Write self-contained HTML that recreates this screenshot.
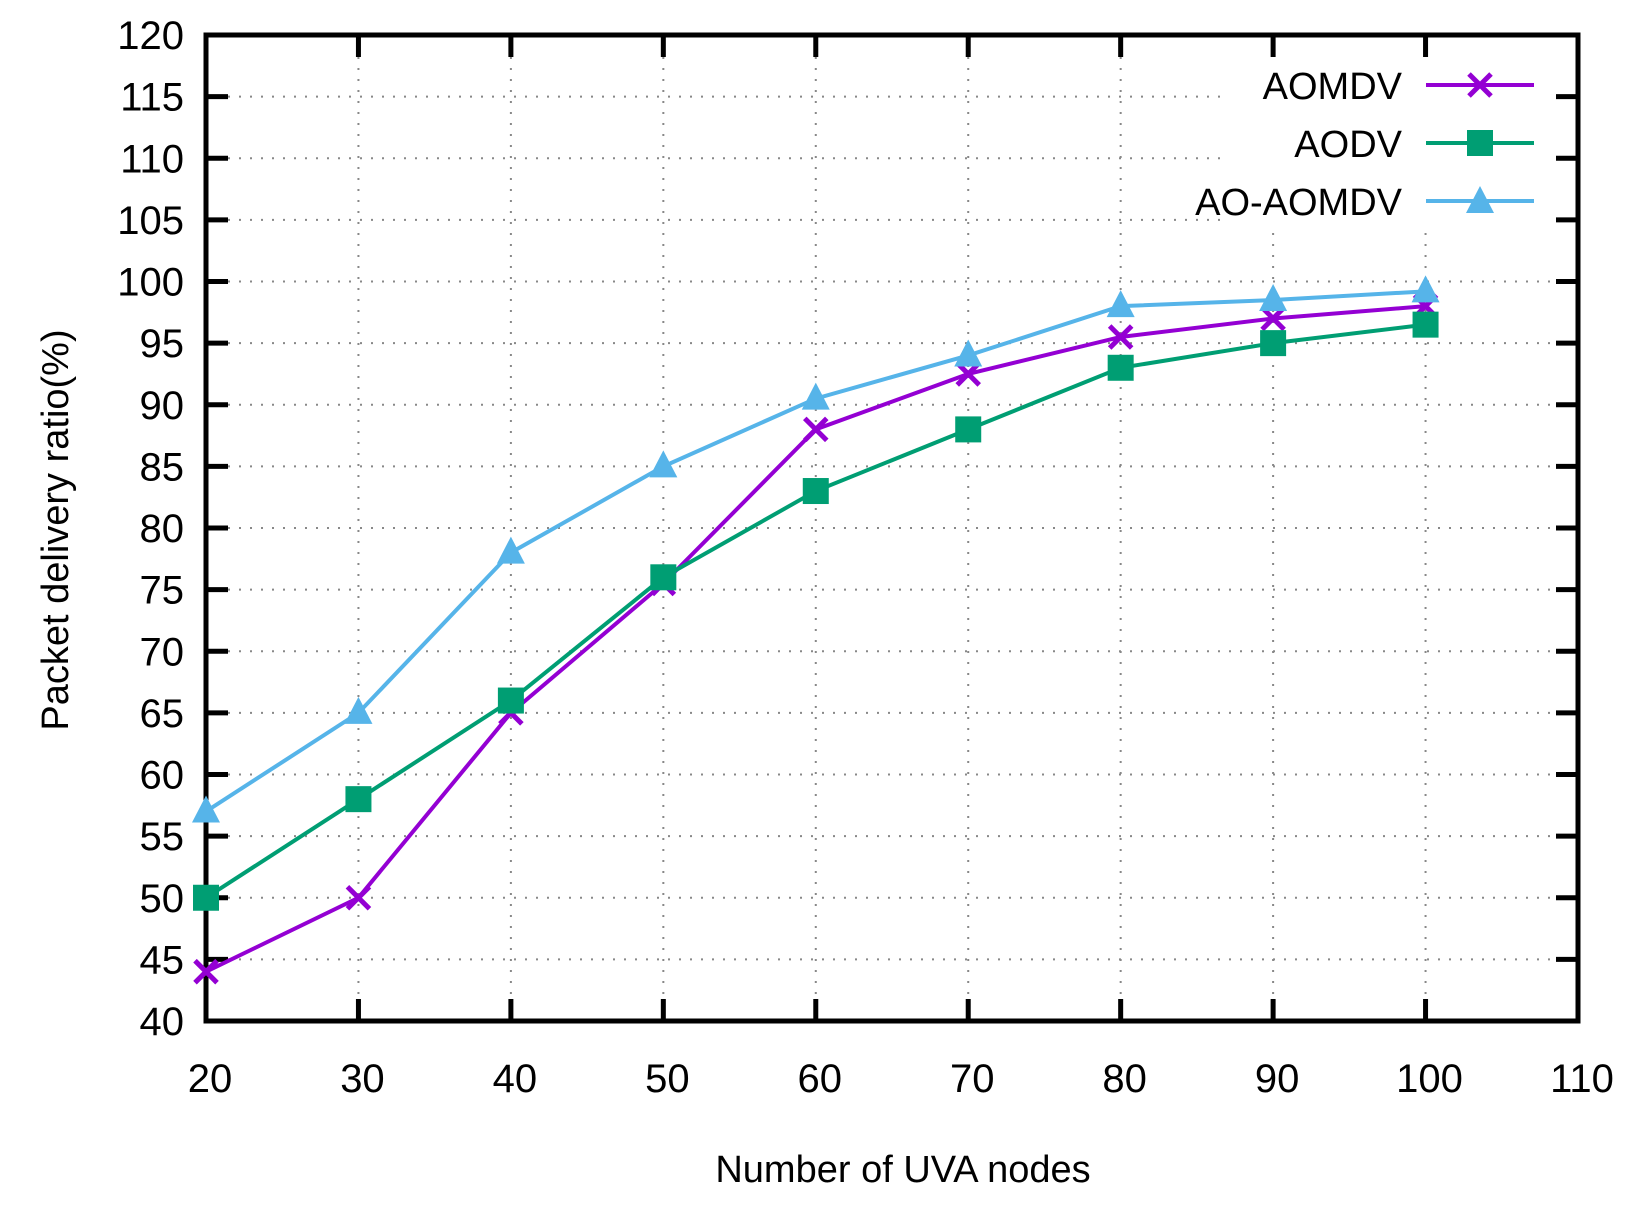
<!DOCTYPE html>
<html><head><meta charset="utf-8"><style>html,body{margin:0;padding:0;background:#fff}svg{display:block}text{font-family:"Liberation Sans",sans-serif;fill:#000}</style></head>
<body>
<svg width="1638" height="1214" viewBox="0 0 1638 1214" xmlns="http://www.w3.org/2000/svg">
<g id="grid" stroke="#888" stroke-width="2" stroke-dasharray="2,9"></g>
<rect x="1222" y="50" width="352" height="175" fill="#fff"/>
<g id="ticks" stroke="#000" stroke-width="5"></g>
<rect x="206" y="35" width="1372" height="986" fill="none" stroke="#000" stroke-width="5"/>
<g id="labels" font-size="40"></g>
<g id="series"></g>
<g font-size="38" text-anchor="end">
<text x="1402" y="99">AOMDV</text>
<text x="1402" y="157">AODV</text>
<text x="1402" y="215">AO-AOMDV</text>
</g>
<g stroke-width="4">
<line x1="1426" y1="85" x2="1534" y2="85" stroke="#9400d3"/>
<path d="M1469,74 L1491,96 M1491,74 L1469,96" stroke="#9400d3" stroke-width="5"/>
<line x1="1426" y1="143" x2="1534" y2="143" stroke="#009e73"/>
<rect x="1467" y="130" width="26" height="26" fill="#009e73" stroke="none"/>
<line x1="1426" y1="201" x2="1534" y2="201" stroke="#56b4e9"/>
<path d="M1480,186 L1494,213 L1466,213 Z" fill="#56b4e9" stroke="none"/>
</g>
<text x="903" y="1182" font-size="38" text-anchor="middle">Number of UVA nodes</text>
<text transform="translate(68,530) rotate(-90)" font-size="38" text-anchor="middle">Packet delivery ratio(%)</text>
</svg>
<script>
const ns="http://www.w3.org/2000/svg";
const X=v=>206+(v-20)*1372/90, Y=v=>1021-(v-40)*986/80;
function el(p,t,a,txt){const e=document.createElementNS(ns,t);for(const k in a)e.setAttribute(k,a[k]);if(txt!==undefined)e.textContent=txt;document.getElementById(p).appendChild(e);return e;}
for(let v=45;v<120;v+=5){const y=Y(v);el('grid','line',{x1:206,x2:1578,y1:y,y2:y});}
for(let v=30;v<110;v+=10){const x=X(v);el('grid','line',{x1:x,x2:x,y1:35,y2:1021});}
for(let v=40;v<=120;v+=5){const y=Y(v);el('ticks','line',{x1:206,x2:228,y1:y,y2:y});el('ticks','line',{x1:1556,x2:1578,y1:y,y2:y});el('labels','text',{x:184,y:y+14,'text-anchor':'end'},v);}
for(let v=20;v<=110;v+=10){const x=X(v);el('ticks','line',{x1:x,x2:x,y1:1021,y2:999});el('ticks','line',{x1:x,x2:x,y1:35,y2:57});el('labels','text',{x:x+4,y:1092,'text-anchor':'middle'},v);}
const xs=[20,30,40,50,60,70,80,90,100];
const S=[["#9400d3",[44,50,65,75.5,88,92.5,95.5,97,98],"x"],["#009e73",[50,58,66,76,83,88,93,95,96.5],"s"],["#56b4e9",[57,65,78,85,90.5,94,98,98.5,99.2],"t"]];
for(const [c,d,m] of S){el('series','polyline',{points:d.map((v,i)=>X(xs[i])+","+Y(v)).join(" "),fill:"none",stroke:c,'stroke-width':4});
d.forEach((v,i)=>{const x=X(xs[i]),y=Y(v);
if(m=="x")el('series','path',{d:`M${x-11},${y-11}L${x+11},${y+11}M${x+11},${y-11}L${x-11},${y+11}`,stroke:c,'stroke-width':5});
else if(m=="s")el('series','rect',{x:x-13,y:y-13,width:26,height:26,fill:c});
else el('series','path',{d:`M${x},${y-16}L${x+14},${y+11}L${x-14},${y+11}Z`,fill:c});});}
</script>
</body></html>
